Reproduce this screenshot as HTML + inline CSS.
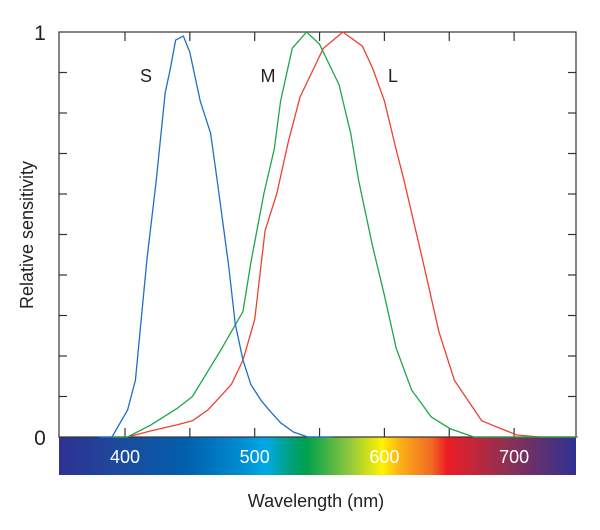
<!DOCTYPE html>
<html><head><meta charset="utf-8"><style>
html,body{margin:0;padding:0;background:#fff;width:600px;height:530px;overflow:hidden}
text{font-family:"Liberation Sans",sans-serif;fill:#222}
</style></head><body>
<svg id="chart" width="600" height="530" viewBox="0 0 600 530">
<defs>
<linearGradient id="spec" x1="0" x2="1" y1="0" y2="0">
<stop offset="0" stop-color="#2e3192"/>
<stop offset="0.12" stop-color="#1d4a9e"/>
<stop offset="0.25" stop-color="#0060ad"/>
<stop offset="0.36" stop-color="#0090d5"/>
<stop offset="0.40" stop-color="#00a9e6"/>
<stop offset="0.45" stop-color="#00a07a"/>
<stop offset="0.48" stop-color="#00a14b"/>
<stop offset="0.56" stop-color="#8dc63f"/>
<stop offset="0.625" stop-color="#fff200"/>
<stop offset="0.66" stop-color="#fbb016"/>
<stop offset="0.72" stop-color="#f26b24"/>
<stop offset="0.75" stop-color="#ed1c24"/>
<stop offset="0.86" stop-color="#923050"/>
<stop offset="1" stop-color="#2e3192"/>
</linearGradient>
</defs>
<g id="frame"></g>
<g id="series"></g>
<g id="labels"></g>
</svg>
<script>
const xTicks=[350,400,450,500,550,600,650,700];
const specLabels=[400,500,600,700];
const yTickVals=[0,0.1,0.2,0.3,0.4,0.5,0.6,0.7,0.8,0.9,1];
const sWl=[380,390,402,408,417,424,431,435,439,445,450,458,466,471,480,485,491,497,505,511,520,530,541,560];
const sVal=[0,0,0.067,0.14,0.44,0.63,0.85,0.91,0.98,0.99,0.95,0.83,0.75,0.635,0.42,0.28,0.19,0.13,0.09,0.067,0.035,0.012,0,0];
const mWl=[390,402,420,440,452,473,491,497,507,515,520,529,540,550,565,574,580,591,600,609,621,636,651,669,700,749];
const mVal=[0,0,0.03,0.07,0.1,0.21,0.31,0.43,0.6,0.71,0.83,0.96,1.0,0.97,0.87,0.75,0.635,0.47,0.35,0.22,0.116,0.05,0.02,0,0,0];
const lWl=[390,402,420,440,452,464,482,491,500,508,517,526,535,541,553,568,583,591,600,609,615,630,642,654,675,702,720,749];
const lVal=[0,0,0.015,0.03,0.04,0.067,0.13,0.19,0.29,0.51,0.6,0.73,0.84,0.88,0.96,1.0,0.965,0.91,0.83,0.71,0.635,0.43,0.26,0.14,0.04,0.005,0,0];
const NS="http://www.w3.org/2000/svg";
const X0=59,X1=576,Y0=437,Y1=32;
function xs(nm){return 125+(nm-400)*1.297;}
function ys(v){return Y0-v*(Y0-Y1);}
function mk(tag,attrs,parent){const e=document.createElementNS(NS,tag);for(const k in attrs)e.setAttribute(k,attrs[k]);parent.appendChild(e);return e;}
const frame=document.getElementById('frame'),series=document.getElementById('series'),labels=document.getElementById('labels');
let bar=mk('rect',{x:X0,y:Y0,width:X1-X0,height:38,fill:'url(#spec)'},frame);


let box=mk('rect',{x:X0,y:Y1,width:X1-X0,height:Y0-Y1,fill:'none',stroke:'#333','stroke-width':1.2},frame);


xTicks.forEach(t=>{const x=xs(t);if(x<X0+2||x>X1-2)return;
 let a=mk('line',{x1:x,x2:x,y1:Y0,y2:Y0-9,stroke:'#333','stroke-width':1.2},frame);
 
 
 let b=mk('line',{x1:x,x2:x,y1:Y1,y2:Y1+9,stroke:'#333','stroke-width':1.2},frame);
 
 });
yTickVals.forEach(v=>{if(v===0||v===1)return;const y=ys(v);
 let a=mk('line',{x1:X0,x2:X0+8,y1:y,y2:y,stroke:'#333','stroke-width':1.2},frame);
 
 
 let b=mk('line',{x1:X1,x2:X1-8,y1:y,y2:y,stroke:'#333','stroke-width':1.2},frame);
 
 });
function drawLine(wl,val,color,name){
 const d=wl.map((w,i)=>(i?'L':'M')+xs(w).toFixed(1)+','+ys(val[i]).toFixed(1)).join(' ');
 const p=mk('path',{d:d,fill:'none',stroke:color,'stroke-width':1.3,'stroke-linejoin':'round'},series);
 
 }
drawLine(lWl,lVal,'#ee4130','l-cone-curve');
drawLine(mWl,mVal,'#1fa64a','m-cone-curve');
drawLine(sWl,sVal,'#1e6fc8','s-cone-curve');
specLabels.forEach(t=>{const e=mk('text',{x:xs(t),y:Y0+26,'text-anchor':'middle','font-size':18,style:'fill:#fff'},labels);e.textContent=t;
 
 });
function txt(s,attrs,name){const e=mk('text',attrs,labels);e.textContent=s;
 
 return e;}
txt('1',{x:40,y:40,'font-size':21,'text-anchor':'middle'},'y-max-label');
txt('0',{x:40,y:445,'font-size':21,'text-anchor':'middle'},'y-min-label');
txt('S',{x:146,y:82,'font-size':18,'text-anchor':'middle'},'s-series-label');
txt('M',{x:268,y:82,'font-size':18,'text-anchor':'middle'},'m-series-label');
txt('L',{x:393,y:82,'font-size':18,'text-anchor':'middle'},'l-series-label');
txt('Relative sensitivity',{x:0,y:0,'font-size':18,'text-anchor':'middle',transform:'translate(33,235) rotate(-90)'},'y-axis-title');
txt('Wavelength (nm)',{x:316,y:507,'font-size':18,'text-anchor':'middle'},'x-axis-title');
</script>
</body></html>
